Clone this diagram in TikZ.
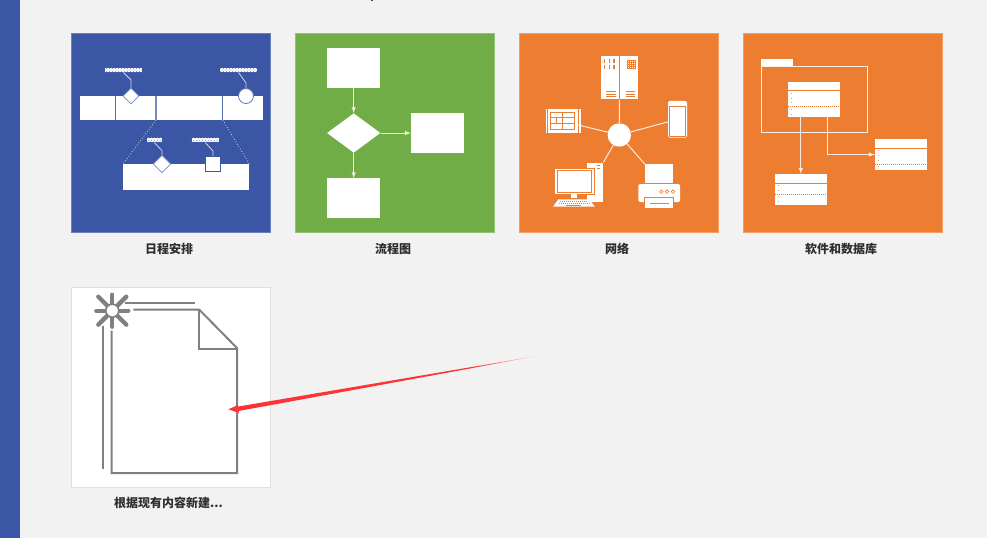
\documentclass[tikz,border=0pt]{standalone}
\usepackage{fontspec}
\newfontfamily\cjk{Noto Sans CJK SC}
\usetikzlibrary{shapes.geometric,patterns}
\definecolor{sidebar}{HTML}{3B56A5}
\definecolor{pagebg}{HTML}{F2F2F2}
\definecolor{vblue}{HTML}{3B56A5}
\definecolor{vgreen}{HTML}{70AD47}
\definecolor{vorange}{HTML}{ED7D31}
\definecolor{docgray}{HTML}{808080}
\definecolor{redmark}{HTML}{FF3333}
\tikzset{
  panel/.style={draw=#1!75!white, fill=#1, line width=0.8pt, minimum size=199.5pt, inner sep=0pt},
  caption/.style={font=\cjk\bfseries\fontsize{12}{12}\selectfont, text=black!82, inner sep=0pt},
  wbox/.style={fill=white, inner sep=0pt},
  wdiamond/.style={diamond, fill=white, inner sep=0pt},
  tick/.style={fill=white, inner sep=0pt, minimum height=4.5pt, postaction={pattern=crosshatch dots, pattern color=vblue!70!white}},
  leader/.style={draw=white!75!vblue, line width=0.8pt},
  flowline/.style={draw=white!85!vgreen, line width=1pt, -latex},
  netline/.style={draw=white!85!vorange, line width=1pt},
  umlline/.style={draw=white!85!vorange, line width=1pt},
  cut/.style={draw=vorange, line width=0.7pt},
  dot/.style={fill=vorange!80!white, inner sep=0pt, minimum size=1.3pt},
  docline/.style={draw=docgray, line width=2pt},
  spoke/.style={draw=docgray, line width=4.3pt, line cap=round}
}
\begin{document}
\begin{tikzpicture}[x=1pt,y=-1pt]
    \useasboundingbox (0,0) rectangle (987,538);
    % 背景
    \fill[pagebg] (0,0) rectangle (987,538);
    \fill[sidebar] (0,0) rectangle (20,538);
    \fill[black!70] (371,0) rectangle (373,1);

    % 日程安排
    \node[panel=vblue] (plan) at (171,133) {};
    \node[caption] (plancap) at (169,249) {日程安排};
    \node[wbox, minimum width=183.2pt, minimum height=24pt] (bar) at (171.1,108) {};
    \coordinate (barleft) at (156,120);
    \coordinate (barright) at (222.7,120);
    \draw[vblue!85!white, line width=1.1pt] (115.7,96) -- (115.7,120);
    \draw[vblue!70!white, line width=1.1pt] (156,96) -- (barleft);
    \draw[vblue!85!white, line width=1.1pt] (222.7,96) -- (barright);
    \node[wbox, minimum width=125.7pt, minimum height=26pt] (low) at (186.2,177) {};
    \draw[draw=white!75!vblue, line width=0.8pt, dotted] (barleft) -- (low.north west);
    \draw[draw=white!75!vblue, line width=0.8pt, dotted] (barright) -- (low.north east);
    \node[wdiamond, draw=vblue!70!white, line width=0.6pt, minimum width=16pt, minimum height=16pt] (diaa) at (131,96) {};
    \node[circle, fill=white, draw=vblue!80!white, line width=0.8pt, inner sep=0pt, minimum size=15pt] (cira) at (246,96) {};
    \node[wdiamond, draw=vblue!70!white, line width=0.6pt, minimum width=17.5pt, minimum height=17.5pt] (diab) at (162,164) {};
    \node[wbox, draw=vblue, line width=0.8pt, minimum size=15.5pt] (squa) at (213,164) {};
    \node[tick, minimum width=37pt] (ticka) at (123.5,70) {};
    \node[tick, minimum width=37pt] (tickb) at (238.5,70) {};
    \node[tick, minimum width=15.5pt] (tickc) at (154.5,140.2) {};
    \node[tick, minimum width=27.5pt] (tickd) at (205.3,140.2) {};
    \draw[leader] (ticka.south) -- (131,80) -- (diaa.north);
    \draw[leader] (tickb.south) -- (246,83) -- (cira.north);
    \draw[leader] (tickc.south) -- (162,150.7) -- (diab.north);
    \draw[leader] (tickd.south) -- (213,151) -- (squa.north);

    % 流程图
    \node[panel=vgreen] (flow) at (395,133) {};
    \node[caption] (flowcap) at (393,249) {流程图};
    \node[wbox, minimum width=53.4pt, minimum height=40pt] (flowa) at (353.7,67.7) {};
    \node[wdiamond, minimum width=53.4pt, minimum height=39.4pt] (flowb) at (353.7,133) {};
    \node[wbox, minimum width=53.4pt, minimum height=40pt] (flowc) at (437.7,133) {};
    \node[wbox, minimum width=53.4pt, minimum height=40pt] (flowd) at (353.7,198.3) {};
    \draw[flowline] (flowa) -- (flowb);
    \draw[flowline] (flowb) -- (flowc);
    \draw[flowline] (flowb) -- (flowd);

    % 网络
    \node[panel=vorange] (net) at (619,133) {};
    \node[caption] (netcap) at (617,249) {网络};
    \node[circle, fill=white, inner sep=0pt, minimum size=23.4pt] (hub) at (619.3,135) {};
    \node[wbox, minimum width=37pt, minimum height=43.3pt] (server) at (619.5,77.7) {};
    \node[wbox, minimum width=29.4pt, minimum height=24pt] (tablet) at (563,121.3) {};
    \node[wbox, rounded corners=1.5pt, minimum width=19pt, minimum height=36.7pt] (phone) at (677.5,119.3) {};
    \node[wbox, minimum width=15.7pt, minimum height=39pt] (tower) at (595.2,182.2) {};
    \node[wbox, minimum width=28.3pt, minimum height=19pt] (paper) at (659.2,173.8) {};
    \draw[netline] (hub) -- (server);
    \draw[netline] (hub) -- (tablet);
    \draw[netline] (hub) -- (phone);
    \draw[netline] (hub) -- (tower.north east);
    \draw[netline] (hub) -- (paper.north west);
    % 服务器
    \draw[cut, line width=0.8pt] (619.5,56) -- (619.5,99.3);
    \draw[cut, line width=1.5pt, dash pattern=on 4pt off 1.7pt] (604.3,59.3) -- (604.3,69);
    \draw[cut, line width=1.5pt, dash pattern=on 4pt off 1.7pt] (609.3,59.3) -- (609.3,69);
    \draw[cut, line width=1.5pt, dash pattern=on 4pt off 1.7pt] (614,59.3) -- (614,69);
    \draw[vorange, line width=0.6pt, step=2pt, shift={(627.3,60)}] (0,0) grid (8,9);
    \draw[cut] (606,91.7) -- (616,91.7);
    \draw[cut] (606,94) -- (616,94);
    \draw[cut] (606,96.3) -- (616,96.3);
    \draw[cut] (625.7,91.7) -- (635.3,91.7);
    \draw[cut] (625.7,94) -- (635.3,94);
    \draw[cut] (625.7,96.3) -- (635.3,96.3);
    % 平板
    \draw[white, line width=0.8pt] (546.2,109.3) -- (546.2,133.3);
    \fill[white] (578.6,109.3) rectangle (580.8,133.3);
    \draw[cut, line width=0.9pt] (550.7,112) rectangle (574.3,129.3);
    \draw[cut, line width=0.9pt] (550.7,117.7) -- (574.3,117.7);
    \draw[cut, line width=0.9pt] (550.7,123.4) -- (574.3,123.4);
    \draw[cut, line width=0.9pt] (562.7,112) -- (562.7,129.3);
    \draw[cut, line width=0.9pt] (556,117.7) -- (556,123.4);
    % 手机
    \draw[cut, line width=0.7pt] (669.7,106) rectangle (685.7,136);
    % 电脑
    \draw[cut] (597,165.3) -- (600.2,165.3);
    \draw[cut] (597,168) -- (600.2,168);
    \node[wbox, draw=vorange, line width=0.8pt, minimum width=40pt, minimum height=26pt] (screen) at (574.3,181.3) {};
    \draw[cut] (557,170.6) rectangle (591.5,192);
    \node[wbox, minimum width=6pt, minimum height=4pt] (stand) at (574,196.2) {};
    \fill[white] (558.3,199.3) -- (589,199.3) -- (595,206.7) -- (553,206.7) -- cycle;
    \draw[cut, line width=0.9pt, dash pattern=on 1.2pt off 0.8pt] (560,201.2) -- (588,201.2);
    \draw[cut, line width=0.9pt, dash pattern=on 1.2pt off 0.8pt] (558.5,203.2) -- (589.5,203.2);
    \draw[cut, line width=0.8pt] (566,205.2) -- (581,205.2);
    % 打印机
    \node[wbox, rounded corners=2pt, minimum width=41.7pt, minimum height=18pt] (printer) at (659.2,193) {};
    \node[wbox, draw=vorange, line width=0.7pt, minimum width=29.4pt, minimum height=11pt] (tray) at (659,202.6) {};
    \draw[cut, line width=0.7pt] (650,203) -- (669,203);
    \draw[cut, line width=0.6pt] (661.3,191.7) circle (1.8);
    \draw[cut, line width=0.6pt] (667,191.7) circle (1.8);
    \draw[cut, line width=0.6pt] (673,191.7) circle (1.8);

    % 软件和数据库
    \node[panel=vorange] (soft) at (843,133) {};
    \node[caption] (softcap) at (841,249) {软件和数据库};
    \fill[white] (761,59) rectangle (793.3,66);
    \draw[white!90!vorange, line width=1pt] (761.5,66) rectangle (867.5,132);
    \node[wbox, minimum width=51.7pt, minimum height=35pt] (classa) at (814.2,99.2) {};
    \draw[cut, line width=0.8pt] (788.3,90.3) -- (840,90.3);
    \draw[cut, line width=0.8pt, dash pattern=on 1pt off 1pt] (788.3,106.3) -- (840,106.3);
    \node[dot] (dota) at (791.7,93.3) {};
    \node[dot] (dotb) at (791.7,98.3) {};
    \node[dot] (dotc) at (791.7,102.3) {};
    \node[dot] (dotd) at (791.7,109.3) {};
    \node[dot] (dote) at (791.7,114.3) {};
    \node[wbox, minimum width=51.7pt, minimum height=30.4pt] (classb) at (900.8,154.5) {};
    \draw[cut, line width=0.8pt] (875,148.3) -- (926.7,148.3);
    \draw[cut, line width=0.8pt, dash pattern=on 1pt off 1pt] (875,164.3) -- (926.7,164.3);
    \node[dot] (dotf) at (878.3,150.3) {};
    \node[dot] (dotg) at (878.3,155.3) {};
    \node[dot] (doth) at (878.3,160.3) {};
    \node[dot] (doti) at (878.3,166.3) {};
    \node[wbox, minimum width=51.7pt, minimum height=30.7pt] (classc) at (800.8,189.3) {};
    \draw[cut, line width=0.8pt] (775,183) -- (826.7,183);
    \draw[cut, line width=0.8pt, dash pattern=on 1pt off 1pt] (775,194) -- (826.7,194);
    \node[dot] (dotj) at (778.3,185.3) {};
    \node[dot] (dotk) at (778.3,190.3) {};
    \node[dot] (dotl) at (778.3,196.3) {};
    \node[dot] (dotm) at (778.3,201.3) {};
    \coordinate (classout) at (827.3,116.7);
    \draw[umlline, -latex] (classc.north |- classa.south) -- (classc.north);
    \draw[umlline, -latex] (classout) |- (classb.west);

    % 根据现有内容新建
    \node[wbox, draw=black!12, line width=0.8pt, minimum size=199.5pt] (blank) at (171,387.3) {};
    \node[caption] (blankcap) at (168.5,503) {根据现有内容新建...};
    \draw[docline] (111.7,330.7) -- (111.7,473) -- (237,473) -- (237,348) -- (199.3,309.7) -- (133.3,309.7);
    \draw[docline] (199.3,309.7) -- (199.3,348.7) -- (237,348.7);
    \draw[docline] (103,325.7) -- (103,468.7);
    \draw[docline] (125,303) -- (195,303);
    \draw[spoke] (112.3,310.7) ++(0,-6) -- ++(0,-10);
    \draw[spoke] (112.3,310.7) ++(0,6) -- ++(0,10);
    \draw[spoke] (112.3,310.7) ++(-6,0) -- ++(-10,0);
    \draw[spoke] (112.3,310.7) ++(6,0) -- ++(10,0);
    \draw[spoke] (112.3,310.7) ++(-4.5,-4.5) -- ++(-9.5,-9.5);
    \draw[spoke] (112.3,310.7) ++(4.5,-4.5) -- ++(9.5,-9.5);
    \draw[spoke] (112.3,310.7) ++(-4.5,4.5) -- ++(-9.5,9.5);
    \draw[spoke] (112.3,310.7) ++(4.5,4.5) -- ++(9.5,9.5);
    \node[circle, fill=white, draw=docgray, line width=1.6pt, inner sep=0pt, minimum size=13pt] (sun) at (112.3,310.7) {};

    % 红色箭头
    \fill[redmark] (228.3,409.3) -- (238,405) -- (237.8,406.6) -- (470,367.3) -- (470,368.5) -- (238.6,411) -- (239,413) -- cycle;
    \shade[left color=redmark, right color=pagebg] (470,367.3) -- (545,354.5) -- (470,368.5) -- cycle;
\end{tikzpicture}
\end{document}
